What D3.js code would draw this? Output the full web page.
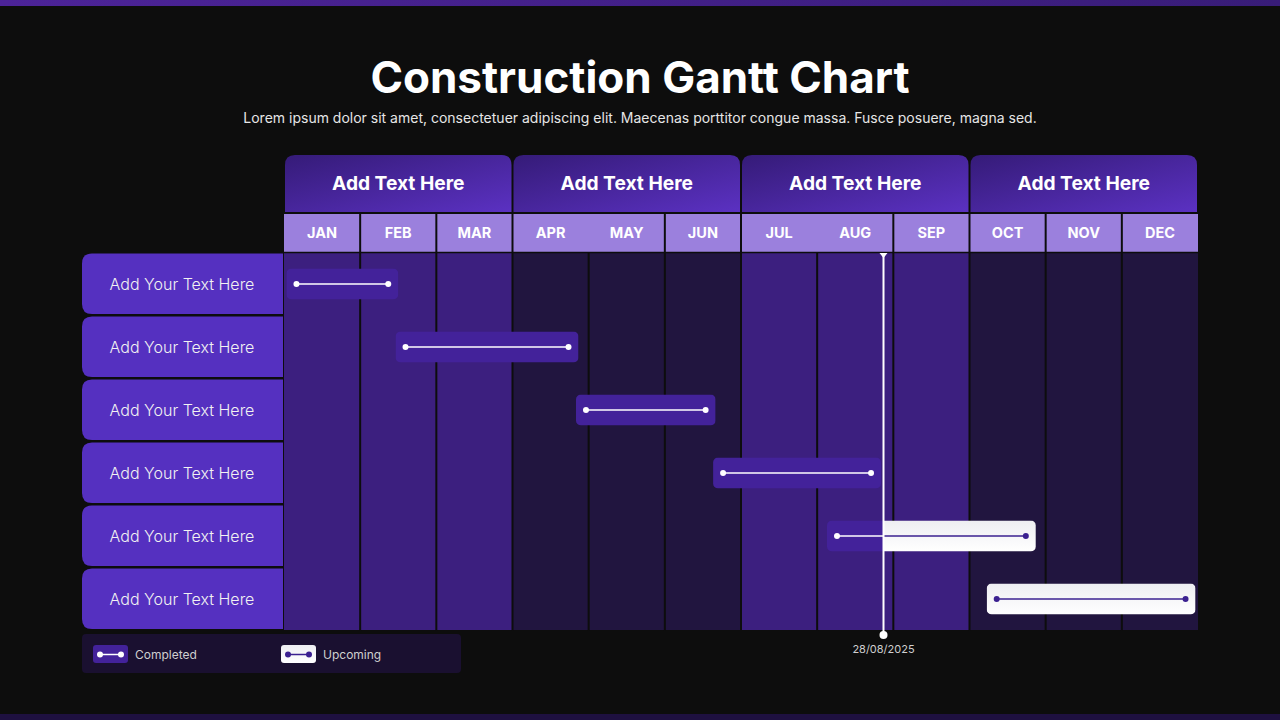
<!DOCTYPE html>
<html><head><meta charset="utf-8">
<script src="https://cdn.jsdelivr.net/npm/d3@7"></script>
<style>html,body{margin:0;padding:0;background:#0d0d0d;}svg{display:block;}</style>
</head><body>
<script>
const title = "Construction Gantt Chart";
const subtitle = "Lorem ipsum dolor sit amet, consectetuer adipiscing elit. Maecenas porttitor congue massa. Fusce posuere, magna sed.";
const quarters = ["Add Text Here","Add Text Here","Add Text Here","Add Text Here"];
const months = ["JAN","FEB","MAR","APR","MAY","JUN","JUL","AUG","SEP","OCT","NOV","DEC"];
const rowLabels = ["Add Your Text Here","Add Your Text Here","Add Your Text Here","Add Your Text Here","Add Your Text Here","Add Your Text Here"];
const taskStart = ["2025-01-02","2025-02-14","2025-04-26","2025-06-20","2025-08-05","2025-10-08"];
const taskEnd   = ["2025-02-15","2025-04-27","2025-06-21","2025-08-27","2025-10-28","2025-12-31"];
const today = "2025-08-28";
const todayLabel = "28/08/2025";
const legendLabels = ["Completed","Upcoming"];

const W=1280,H=720;
const svg=d3.select("body").append("svg").attr("width",W).attr("height",H);
const defs=svg.append("defs");
const gq=defs.append("linearGradient").attr("id","gq").attr("x1","0").attr("y1","0").attr("x2","1").attr("y2","1");
gq.append("stop").attr("offset","0").attr("stop-color","#351b78");
gq.append("stop").attr("offset","1").attr("stop-color","#5b31c2");
const gt=defs.append("linearGradient").attr("id","gt").attr("x1","0").attr("x2","1");
gt.append("stop").attr("offset","0").attr("stop-color","#4c2398");
gt.append("stop").attr("offset","1").attr("stop-color","#381c78");
const gw=defs.append("linearGradient").attr("id","gw").attr("x1","0").attr("y1","0").attr("x2","0").attr("y2","1");
gw.append("stop").attr("offset","0").attr("stop-color","#eeeef2");
gw.append("stop").attr("offset","1").attr("stop-color","#ffffff");

svg.append("rect").attr("width",W).attr("height",H).attr("fill","#0d0d0d");
svg.append("rect").attr("width",W).attr("height",6).attr("fill","url(#gt)");
svg.append("rect").attr("y",714).attr("width",W).attr("height",6).attr("fill","#1e1040");

svg.append("text").attr("x",640).attr("y",93).attr("text-anchor","middle")
  .attr("font-family","Inter, sans-serif").attr("font-weight",700).attr("font-size",44)
  .attr("fill","#fff").text(title);
svg.append("text").attr("x",640).attr("y",123).attr("text-anchor","middle")
  .attr("font-family","Inter, sans-serif").attr("font-size",14)
  .attr("fill","#e6e6e6").text(subtitle);

// scales
const x0=284, x1=1198;
const xm=d3.scaleLinear().domain([0,12]).range([x0,x1]);
const band=d3.scaleBand().domain(months).range([x0,x1]);
const bodyTop=253, bodyBot=631;
const y=d3.scaleBand().domain(d3.range(rowLabels.length)).range([bodyTop,bodyBot]);
function fm(s){const d=new Date(s+"T00:00:00");const m=d.getMonth();const dim=new Date(d.getFullYear(),m+1,0).getDate();return m+(d.getDate()-1)/dim;}

// body columns
const colFill=i=>(Math.floor(i/3)%2===0)?"#3c1f7f":"#21153f";
svg.append("g").selectAll("rect").data(months).join("rect")
  .attr("x",d=>band(d)).attr("y",bodyTop).attr("width",band.bandwidth()).attr("height",bodyBot-bodyTop-1)
  .attr("fill",(d,i)=>colFill(i));
svg.append("g").selectAll("line").data(months.slice(1)).join("line")
  .attr("x1",d=>band(d)).attr("x2",d=>band(d)).attr("y1",bodyTop).attr("y2",bodyBot)
  .attr("stroke","#0d0d0d").attr("stroke-width",2);

// month header
svg.append("rect").attr("x",x0).attr("y",214).attr("width",x1-x0).attr("height",38).attr("fill","#9b80dd");
svg.append("g").selectAll("line").data(months.slice(1).filter((d,i)=>d!=="MAY"&&d!=="AUG")).join("line")
  .attr("x1",d=>band(d)).attr("x2",d=>band(d)).attr("y1",214).attr("y2",253)
  .attr("stroke","#0d0d0d").attr("stroke-width",2);
svg.append("line").attr("x1",x0).attr("x2",x1).attr("y1",213).attr("y2",213).attr("stroke","#0d0d0d").attr("stroke-width",2);
svg.append("line").attr("x1",x0).attr("x2",x1).attr("y1",252.5).attr("y2",252.5).attr("stroke","#0d0d0d").attr("stroke-width",1.5);
svg.append("g").selectAll("text").data(months).join("text")
  .attr("x",d=>band(d)+band.bandwidth()/2).attr("y",238).attr("text-anchor","middle")
  .attr("font-family","Inter, sans-serif").attr("font-weight",700).attr("font-size",14.5)
  .attr("fill","#fff").text(d=>d);

// quarter headers
const qw=(x1-x0)/4;
function topRounded(x,y,w,h,r){return `M${x},${y+h}V${y+r}Q${x},${y} ${x+r},${y}H${x+w-r}Q${x+w},${y} ${x+w},${y+r}V${y+h}Z`;}
const qg=svg.append("g").selectAll("g").data(quarters).join("g");
qg.append("path").attr("d",(d,i)=>topRounded(x0+i*qw+1,155,qw-2,57,10)).attr("fill","url(#gq)");
qg.append("text").attr("x",(d,i)=>x0+i*qw+qw/2).attr("y",190).attr("text-anchor","middle")
  .attr("font-family","Inter, sans-serif").attr("font-weight",700).attr("font-size",19.2)
  .attr("fill","#fff").text(d=>d);

// row labels
function leftRounded(x,y,w,h,r){return `M${x+w},${y}H${x+r}Q${x},${y} ${x},${y+r}V${y+h-r}Q${x},${y+h} ${x+r},${y+h}H${x+w}Z`;}
const rg=svg.append("g").selectAll("g").data(rowLabels).join("g");
rg.append("path").attr("d",(d,i)=>leftRounded(82,y(i)+0.5,201,y.bandwidth()-2.5,10)).attr("fill","#5530c0");
rg.append("text").attr("x",182).attr("y",(d,i)=>y(i)+y.bandwidth()/2+5.5).attr("text-anchor","middle")
  .attr("font-family","Inter, sans-serif").attr("font-weight",300).attr("font-size",16).attr("fill","#f2f2f2").text(d=>d);

// tasks
const tx=xm(fm(today));
const purple="#43229a", lineDark="#3b2090";
const tg=svg.append("g");
taskStart.forEach((s,i)=>{
  const a=xm(fm(s)), b=xm(fm(taskEnd[i]));
  const cy=y(i)+y.bandwidth()/2-0.5;
  const h=31, ty=cy-h/2;
  const id="cl"+i;
  defs.append("clipPath").attr("id",id).append("rect").attr("x",a).attr("y",ty).attr("width",b-a).attr("height",h).attr("rx",5);
  const g=tg.append("g").attr("clip-path",`url(#${id})`);
  const split=Math.max(a,Math.min(b,tx));
  if(split>a) g.append("rect").attr("x",a).attr("y",ty).attr("width",split-a).attr("height",h).attr("fill",purple);
  if(split<b) g.append("rect").attr("x",split).attr("y",ty).attr("width",b-split).attr("height",h).attr("fill","url(#gw)");
  const d1=a+10, d2=b-10;
  const ls=Math.max(d1,Math.min(d2,tx));
  if(ls>d1) tg.append("line").attr("x1",d1).attr("x2",ls).attr("y1",cy).attr("y2",cy).attr("stroke","#fff").attr("stroke-width",1.5);
  if(ls<d2) tg.append("line").attr("x1",ls).attr("x2",d2).attr("y1",cy).attr("y2",cy).attr("stroke",lineDark).attr("stroke-width",1.5);
  tg.append("circle").attr("cx",d1).attr("cy",cy).attr("r",3).attr("fill",d1<tx?"#fff":lineDark);
  tg.append("circle").attr("cx",d2).attr("cy",cy).attr("r",3).attr("fill",d2<tx?"#fff":lineDark);
});

// today line
svg.append("line").attr("x1",tx).attr("x2",tx).attr("y1",bodyTop).attr("y2",635).attr("stroke","#fff").attr("stroke-width",2);
svg.append("path").attr("d",`M${tx-4},${bodyTop}L${tx+4},${bodyTop}L${tx},${bodyTop+5}Z`).attr("fill","#fff");
svg.append("circle").attr("cx",tx).attr("cy",635).attr("r",4).attr("fill","#fff");
svg.append("text").attr("x",tx).attr("y",653).attr("text-anchor","middle")
  .attr("font-family","Inter, sans-serif").attr("font-size",11).attr("fill","#cfcfcf").text(todayLabel);

// legend
svg.append("rect").attr("x",82).attr("y",634).attr("width",379).attr("height",39).attr("rx",4).attr("fill","#1a1030");
const lx=[93,281];
legendLabels.forEach((t,i)=>{
  const g=svg.append("g").attr("transform",`translate(${lx[i]},645)`);
  g.append("rect").attr("width",35).attr("height",18).attr("rx",3).attr("fill",i===0?purple:"url(#gw)");
  const c=i===0?"#fff":lineDark;
  g.append("line").attr("x1",7).attr("x2",28).attr("y1",9.5).attr("y2",9.5).attr("stroke",c).attr("stroke-width",1.5);
  g.append("circle").attr("cx",7).attr("cy",9.5).attr("r",3).attr("fill",c);
  g.append("circle").attr("cx",28).attr("cy",9.5).attr("r",3).attr("fill",c);
  g.append("text").attr("x",42).attr("y",13.5).attr("font-family","Inter, sans-serif").attr("font-size",12)
    .attr("fill","#cfcfcf").text(t);
});
</script>
</body></html>
